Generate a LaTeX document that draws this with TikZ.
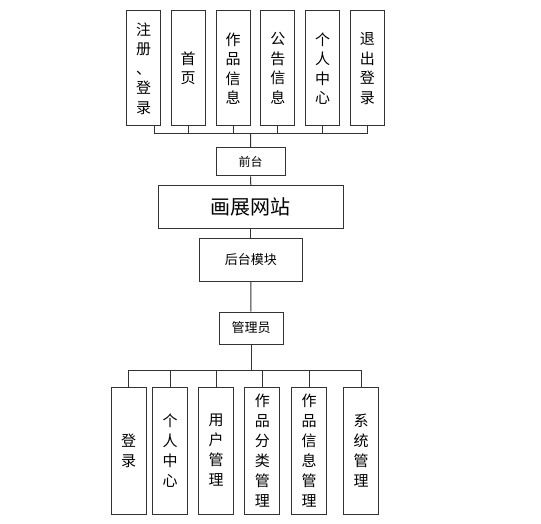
\documentclass[tikz,border=0pt]{standalone}
\usepackage{fontspec}
\newfontfamily\cjk{Noto Sans CJK SC}
\usetikzlibrary{positioning, calc}

\tikzset{
    box/.style={draw=black!80, line width=1pt, fill=white, inner sep=0pt, align=center, font=\cjk\fontsize{15}{19.5}\selectfont},
    topbox/.style={box, minimum width=34pt, minimum height=115pt},
    lowbox/.style={box, minimum width=35pt, minimum height=127pt, font=\cjk\fontsize{15}{20}\selectfont},
    link/.style={draw=black!80, line width=1pt}
}

\begin{document}
\begin{tikzpicture}[x=1pt, y=-1pt]
    \useasboundingbox (0,0) rectangle (541,524); % Page

    % Front modules
    \node[topbox] (reg)    at (143.7,68.5) {注\\册\\、\\登\\录};
    \node[topbox] (home)   at (188.0,68.5) {首\\页};
    \node[topbox] (works)  at (233.0,68.5) {作\\品\\信\\息};
    \node[topbox] (notice) at (277.8,68.5) {公\\告\\信\\息};
    \node[topbox] (user)   at (322.5,68.5) {个\\人\\中\\心};
    \node[topbox] (logout) at (367.3,68.5) {退\\出\\登\\录};

    % Main column
    \node[box, minimum width=69pt, minimum height=28pt, font=\cjk\fontsize{12}{14}\selectfont] (front) at (250.5,162) {前台};
    \node[box, minimum width=185pt, minimum height=42.6pt, font=\cjk\fontsize{20}{24}\selectfont] (site) at (250.8,207) {画展网站};
    \node[box, minimum width=103pt, minimum height=42.7pt, font=\cjk\fontsize{13}{15}\selectfont] (back) at (250.8,259.7) {后台模块};
    \node[box, minimum width=64pt, minimum height=32pt, font=\cjk\fontsize{13}{15}\selectfont] (admin) at (251,328) {管理员};

    % Back modules
    \node[lowbox] (login)  at (128.5,450.5) {登\\录};
    \node[lowbox] (center) at (170.0,450.5) {个\\人\\中\\心};
    \node[lowbox] (users)  at (216.0,450.5) {用\\户\\管\\理};
    \node[lowbox] (cats)   at (262.3,450.5) {作\\品\\分\\类\\管\\理};
    \node[lowbox] (items)  at (309.0,450.5) {作\\品\\信\\息\\管\\理};
    \node[lowbox] (system) at (361.0,450.5) {系\\统\\管\\理};

    \coordinate (fbar) at (250.7,134); % Front bar
    \coordinate (abar) at (251,370.7); % Back bar

    % Front links
    \draw[link] ([xshift=11pt]reg.south) |- (fbar);
    \draw[link] (home.south) |- (fbar);
    \draw[link] (works.south) |- (fbar);
    \draw[link] (notice.south) |- (fbar);
    \draw[link] (user.south) |- (fbar);
    \draw[link] (logout.south) |- (fbar);
    \draw[link] (fbar) -- (front.north);

    % Column links
    \draw[link] (front.south) -- (site.north);
    \draw[link] (site.south) -- (back.north);
    \draw[link] (back.south) -- (admin.north);

    % Back links
    \draw[link] (admin.south) -- (abar);
    \draw[link] (abar) -| (login.north);
    \draw[link] (abar) -| (center.north);
    \draw[link] (abar) -| (users.north);
    \draw[link] (abar) -| (cats.north);
    \draw[link] (abar) -| (items.north);
    \draw[link] (abar) -| (system.north);
\end{tikzpicture}
\end{document}
